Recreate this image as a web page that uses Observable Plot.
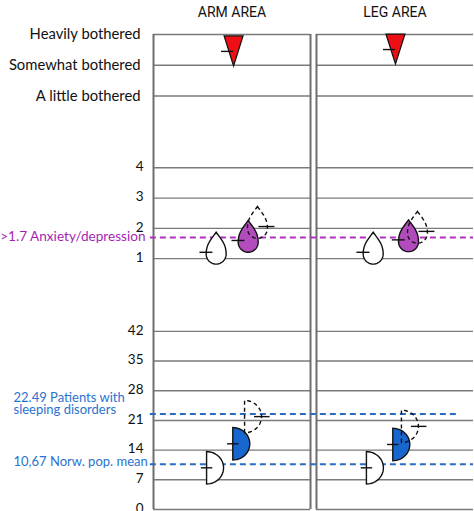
<!DOCTYPE html>
<html><head><meta charset="utf-8">
<script src="https://cdn.jsdelivr.net/npm/d3@7"></script>
<script src="https://cdn.jsdelivr.net/npm/@observablehq/plot@0.6"></script>
<style>body{margin:0;background:#fff}</style>
</head><body><div id="chart"></div>
<script>
// ---- data ----
const areas = ["ARM AREA", "LEG AREA"];
const botherLevels = ["A little bothered", "Somewhat bothered", "Heavily bothered"];
const anxietyTicks = [1, 2, 3, 4];
const sleepTicks = [0, 7, 14, 21, 28, 35, 42];
const botherValues = [2.45, 2.51];          // triangle (1-3 scale)
const anxietyBaseline = [1.21, 1.21];       // white drop
const anxietyPatients = [1.60, 1.62];       // purple drop
const anxietyDashed = [2.06, 1.90];         // dashed drop
const sleepBaseline = [9.83, 9.83];         // white half disc
const sleepPatients = [15.49, 15.33];       // blue half disc
const sleepDashed = [21.9, 19.6];           // dashed half disc
const refAnxiety = 1.7;
const refSleepPatients = 22.49;
const refNorwPop = 10.67;
const refLabels = [">1.7 Anxiety/depression", "22.49 Patients with\nsleeping disorders", "10,67 Norw. pop. mean"];

// ---- section transforms to a common row scale ----
const rowTop = L => 16 - (3 - L) * 1.035;
const rowMid = v => 8.45 + (v - 1) * 1.02;
const rowBot = v => v / 7;

// ---- layout ----
const panelStart = [0, 10.38], panelW = 10, xMax = 20.38;
const layout = {
  tri: [5.10, 5.03],
  dropW: [3.99, 3.61], dropP: [6.03, 5.86], dropD: [6.62, 6.43],
  halfW: [3.38, 3.18], halfB: [5.05, 4.86], halfD: [5.80, 5.41]
};

// ---- symbols ----
function bez(p0, p1, p2, p3, n) {
  const out = [];
  for (let k = 1; k <= n; k++) {
    const t = k / n, u = 1 - t;
    out.push([u*u*u*p0[0] + 3*u*u*t*p1[0] + 3*u*t*t*p2[0] + t*t*t*p3[0],
              u*u*u*p0[1] + 3*u*u*t*p1[1] + 3*u*t*t*p2[1] + t*t*t*p3[1]]);
  }
  return out;
}
function poly(pts, close = true) {
  return {draw(ctx) {
    pts.forEach(([x, y], i) => i ? ctx.lineTo(x, y) : ctx.moveTo(x, y));
    if (close) ctx.closePath();
  }};
}
function dropPts(R = 10, c = 1.8, t = -20) {
  const pts = [[0, t]];
  pts.push(...bez([0, t], [R * 0.5, t + 7], [R, c - 10], [R, c], 14));
  for (let k = 1; k <= 24; k++) { const a = Math.PI * k / 24; pts.push([R * Math.cos(a), c + R * Math.sin(a)]); }
  pts.push(...bez([-R, c], [-R, c - 10], [-R * 0.5, t + 7], [0, t], 14));
  return pts;
}
function halfPts(R = 16.2, Rx = 17) {
  const pts = [[0, R]];
  pts.push([0, -R]);
  for (let k = 1; k <= 30; k++) { const a = -Math.PI / 2 + Math.PI * k / 30; pts.push([Rx * Math.cos(a), R * Math.sin(a)]); }
  return pts;
}
const triSym = poly([[-9.5, -15.5], [9.5, -15.5], [0, 14.5]]);
const dropSym = poly(dropPts());
const halfSym = poly(halfPts());
const tick = (a, b) => poly([[a, 0], [b, 0]], false);

// ---- build glyph rows ----
const tri = areas.map((a, i) => ({x: panelStart[i] + layout.tri[i], y: rowTop(botherValues[i])}));
const dW = areas.map((a, i) => ({x: panelStart[i] + layout.dropW[i], y: rowMid(anxietyBaseline[i])}));
const dP = areas.map((a, i) => ({x: panelStart[i] + layout.dropP[i], y: rowMid(anxietyPatients[i])}));
const dD = areas.map((a, i) => ({x: panelStart[i] + layout.dropD[i], y: rowMid(anxietyDashed[i])}));
const hW = areas.map((a, i) => ({x: panelStart[i] + layout.halfW[i], y: rowBot(sleepBaseline[i])}));
const hB = areas.map((a, i) => ({x: panelStart[i] + layout.halfB[i], y: rowBot(sleepPatients[i])}));
const hD = areas.map((a, i) => ({x: panelStart[i] + layout.halfD[i], y: rowBot(sleepDashed[i])}));

// ---- grid ----
const numRows = [
  ...sleepTicks.map(v => ({row: rowBot(v), label: String(v)})),
  ...anxietyTicks.map(v => ({row: rowMid(v), label: String(v)}))
];
const textRows = botherLevels.map((l, k) => ({row: rowTop(k + 1), label: l}));
const axisRows = [...numRows, ...textRows];
const grid = [];
panelStart.forEach((s, i) => axisRows.forEach(r => grid.push({row: r.row, x1: s, x2: i ? xMax : s + panelW})));
const borders = [0, panelW, panelStart[1]];

const ink = "#111";
const chart = Plot.plot({
  width: 474, height: 511,
  marginLeft: 153, marginRight: 1, marginTop: 34, marginBottom: 2,
  x: {domain: [0, xMax], axis: null},
  y: {domain: [0, 16], axis: null},
  style: {fontFamily: "Lato, sans-serif", fontSize: "13px", background: "white", color: "#111"},
  marks: [
    Plot.ruleY(grid, {y: "row", x1: "x1", x2: "x2", stroke: "#7a7a7a", strokeWidth: 1.4}),
    Plot.ruleX(borders, {x: d => d, y1: 0, y2: 16, stroke: "#6e6e6e", strokeWidth: 2}),
    Plot.text(numRows, {x: 0, y: "row", text: "label", dx: -10, dy: -1, textAnchor: "end", fontSize: 13.5, fill: ink}),
    Plot.text(textRows, {x: 0, y: "row", text: "label", dx: -13, dy: 0, textAnchor: "end", fontSize: 14.8, fill: ink}),
    Plot.text(areas, {x: (d, i) => panelStart[i] + panelW / 2, text: d => d, frameAnchor: "top", dy: -27,
      fontFamily: "Roboto, sans-serif", fontSize: 14, fill: ink}),
    // reference lines
    Plot.ruleY([refAnxiety], {y: rowMid, x1: -0.2, x2: xMax, stroke: "#b02fbf", strokeWidth: 2, strokeDasharray: "6,4"}),
    Plot.ruleY([refSleepPatients], {y: rowBot, x1: -0.2, x2: 19.5, stroke: "#2a6cc4", strokeWidth: 2, strokeDasharray: "6,4"}),
    Plot.ruleY([refNorwPop], {y: rowBot, x1: -0.2, x2: xMax, stroke: "#2a6cc4", strokeWidth: 2, strokeDasharray: "6,4"}),
    Plot.text([refLabels[0]], {x: 0, y: rowMid(refAnxiety), text: d => d, dx: -8, dy: -1, textAnchor: "end", fill: "#a51fb3", fontSize: 13.6}),
    Plot.text([refLabels[1]], {x: 0, y: rowBot(refSleepPatients), text: d => d, dx: -140, dy: -10.4, textAnchor: "start", lineHeight: 0.92, fill: "#2a72cf", fontSize: 13}),
    Plot.text([refLabels[2]], {x: 0, y: rowBot(refNorwPop), text: d => d, dx: -140, dy: -2, textAnchor: "start", fill: "#2a72cf", fontSize: 13}),
    // glyphs
    Plot.dot(tri, {x: "x", y: "y", symbol: triSym, fill: "#ee0f14", stroke: ink, strokeWidth: 1.2}),
    Plot.dot(dW, {x: "x", y: "y", symbol: dropSym, fill: "white", stroke: ink, strokeWidth: 1.4}),
    Plot.dot(dP, {x: "x", y: "y", symbol: dropSym, fill: "#b24cbd", stroke: ink, strokeWidth: 1.4}),
    Plot.dot(dD, {x: "x", y: "y", symbol: dropSym, fill: "none", stroke: ink, strokeWidth: 1.4, strokeDasharray: "4,3"}),
    Plot.dot(hW, {x: "x", y: "y", symbol: halfSym, fill: "white", stroke: ink, strokeWidth: 1.4}),
    Plot.dot(hB, {x: "x", y: "y", symbol: halfSym, fill: "#1767cf", stroke: ink, strokeWidth: 1.4}),
    Plot.dot(hD, {x: "x", y: "y", symbol: halfSym, fill: "none", stroke: ink, strokeWidth: 1.4, strokeDasharray: "4,3"}),
    // value ticks
    Plot.dot(tri, {x: "x", y: "y", symbol: tick(-12.5, -0.5), stroke: ink, strokeWidth: 1.4}),
    Plot.dot([...dW, ...dP], {x: "x", y: "y", symbol: tick(-16.7, -3.7), stroke: ink, strokeWidth: 1.4}),
    Plot.dot(dD, {x: "x", y: "y", symbol: tick(1, 17), stroke: ink, strokeWidth: 1.4}),
    Plot.dot([...hW, ...hB], {x: "x", y: "y", symbol: tick(-5.7, 5.7), stroke: ink, strokeWidth: 1.4}),
    Plot.dot(hD, {x: "x", y: "y", symbol: tick(9.5, 25), stroke: ink, strokeWidth: 1.4})
  ]
});
document.getElementById("chart").append(chart);
</script>
</body></html>
